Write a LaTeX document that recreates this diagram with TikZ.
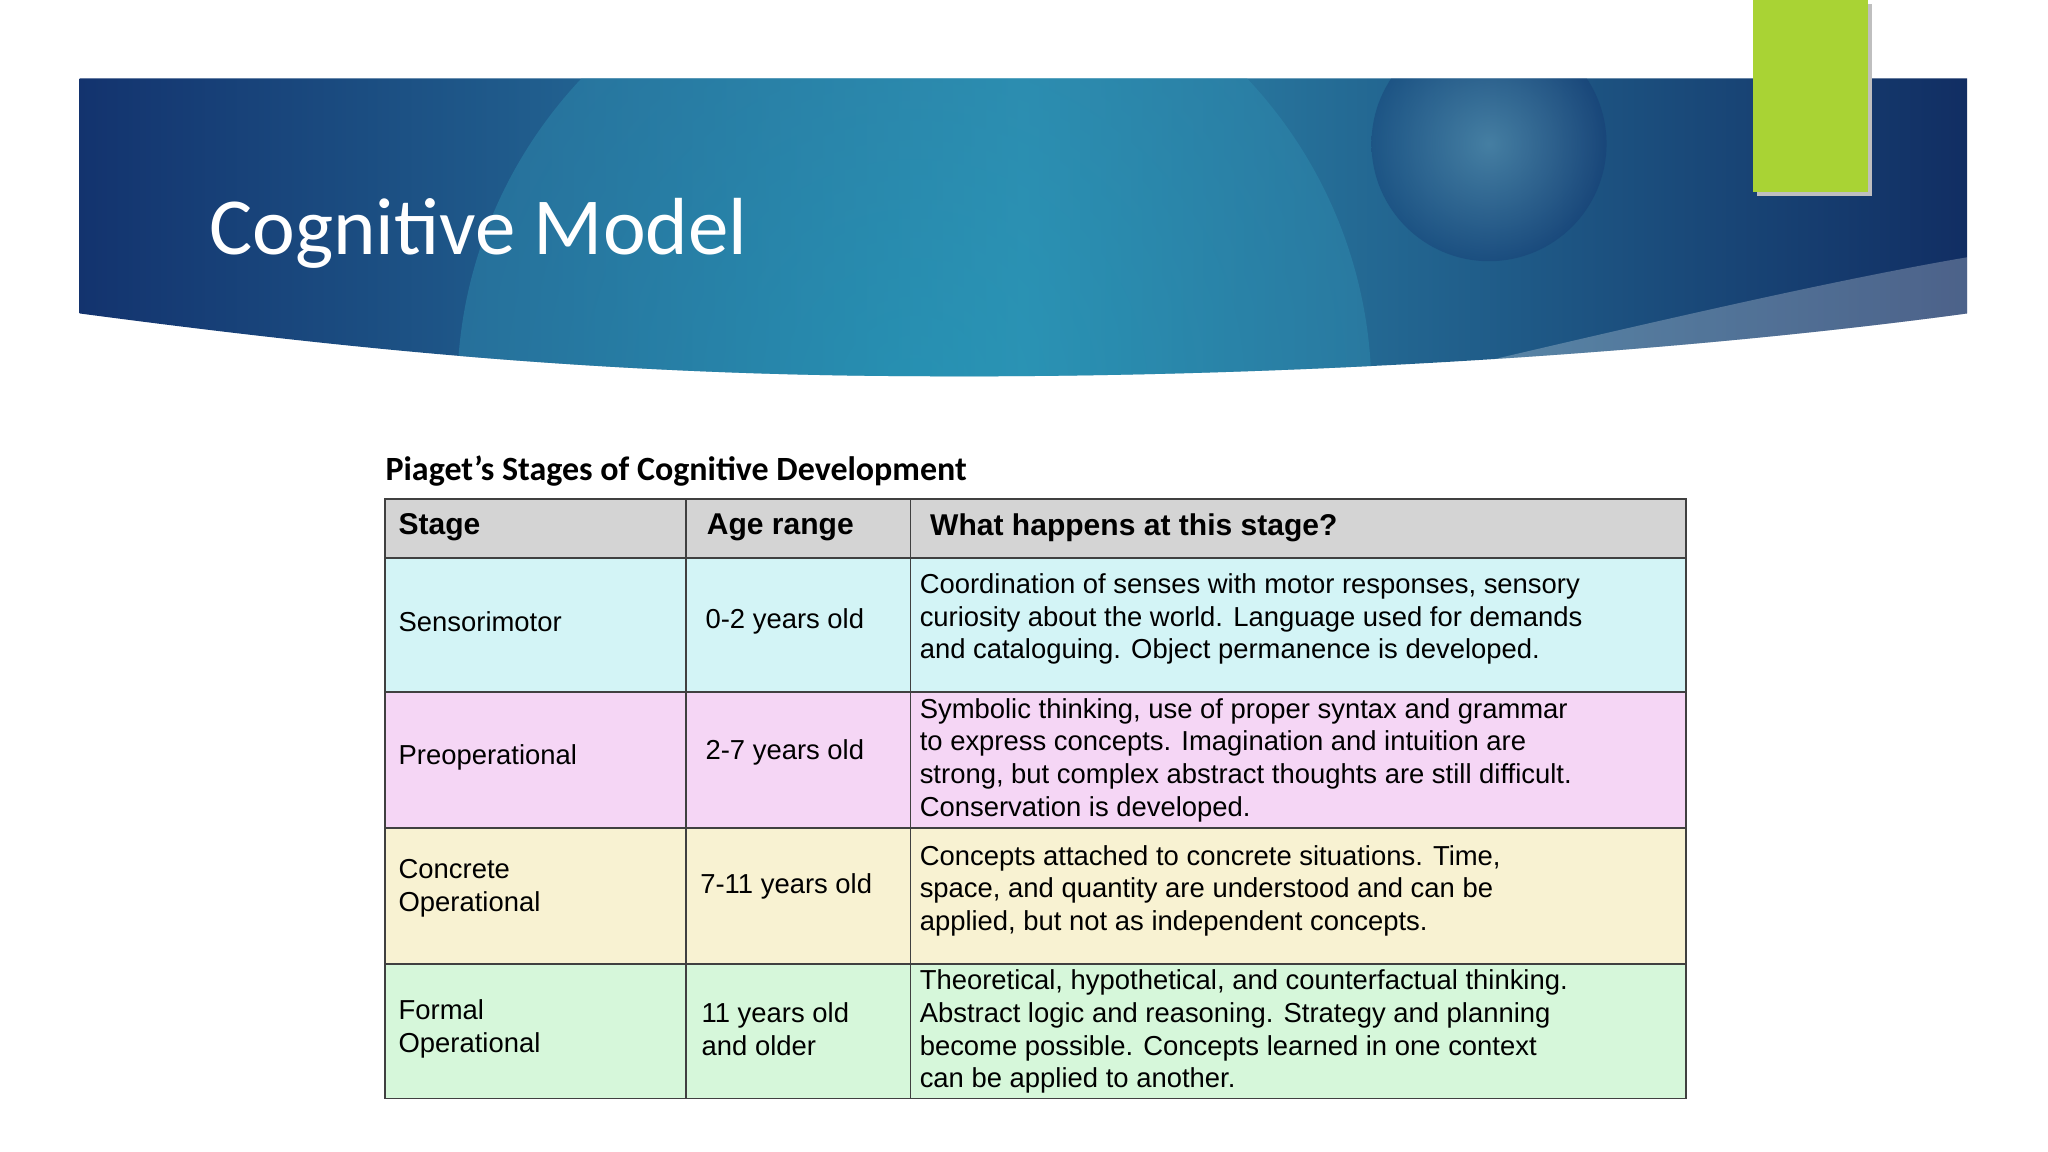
\documentclass[tikz,border=0pt]{standalone}
\usepackage{fontspec}
\setmainfont{Liberation Sans}
\newfontfamily\calfnt{Carlito}
\usetikzlibrary{shadings}
\definecolor{hdr}{HTML}{D4D4D4}
\definecolor{rA}{HTML}{D3F4F6}
\definecolor{rB}{HTML}{F5D6F5}
\definecolor{rC}{HTML}{F8F2D2}
\definecolor{rD}{HTML}{D6F7DA}
\definecolor{dblue}{HTML}{13336E}
\definecolor{tealc}{HTML}{2E8AAE}
\definecolor{grn}{HTML}{A9D334}
\begin{document}
\begin{tikzpicture}[x=1pt,y=-1pt,
  cell/.style={anchor=west,align=left,font=\fontsize{21}{25}\selectfont,inner sep=0pt},
  hcell/.style={anchor=west,font=\fontsize{23}{27}\selectfont\bfseries,inner sep=0pt}]
\useasboundingbox (0,0) rectangle (1568,882);
\fill[white] (0,0) rectangle (1568,882);
% header band
\begin{scope}
\clip (61,60) -- (1506,60) -- (1506,240) .. controls (1300,268) and (1000,290) .. (700,288) .. controls (450,287) and (250,265) .. (61,240) -- cycle;
\shade[left color=dblue,right color=dblue!90!black,middle color=tealc] (61,60) rectangle (1506,290);
\shade[inner color=tealc!80!cyan,outer color=tealc,opacity=0.5] (700,300) circle (350);
\shade[inner color=white!45!tealc,outer color=dblue, opacity=0.35] (1140,110) circle (90);
\fill[white,opacity=0.25] (1080,290) .. controls (1250,250) and (1400,215) .. (1506,197) -- (1506,300) -- cycle;
\end{scope}
\fill[black!25] (1345,3) rectangle (1433,150);
\fill[grn] (1342,0) rectangle (1430,147);
\node[anchor=base west,text=white,inner sep=0pt,font=\calfnt\fontsize{62}{70}\selectfont] (title) at (160,195) {Cognitive Model};
% table
\node[anchor=base west,inner sep=0pt,font=\calfnt\bfseries\fontsize{26}{30}\selectfont] (tt) at (295,368) {Piaget’s Stages of Cognitive Development};
\fill[hdr] (295,382) rectangle (1291,427);
\fill[rA] (295,427) rectangle (1291,530);
\fill[rB] (295,530) rectangle (1291,634);
\fill[rC] (295,634) rectangle (1291,738);
\fill[rD] (295,738) rectangle (1291,841);
\draw[black!75,line width=1.3] (295,382) rectangle (1291,841);
\foreach \y in {427,530,634,738} \draw[black!75,line width=1.3] (295,\y) -- (1291,\y);
\foreach \x in {525,697} \draw[black!75,line width=1.3] (\x,382) -- (\x,841);
\node[hcell] (h1) at (305,404) {Stage};
\node[hcell] (h2) at (541,404) {Age range};
\node[hcell] (h3) at (712,404) {What happens at this stage?};
\node[cell] (s1) at (305,476) {Sensorimotor};
\node[cell] (a1) at (540,476) {0-2 years old};
\node[cell] (d1) at (704,474) {Coordination of senses with motor responses, sensory\\curiosity about the world. Language used for demands\\and cataloguing. Object permanence is developed.};
\node[cell] (s2) at (305,580) {Preoperational};
\node[cell] (a2) at (540,576) {2-7 years old};
\node[cell] (d2) at (704,582) {Symbolic thinking, use of proper syntax and grammar\\to express concepts. Imagination and intuition are\\strong, but complex abstract thoughts are still difficult.\\Conservation is developed.};
\node[cell] (s3) at (305,680) {Concrete\\Operational};
\node[cell] (a3) at (536,679) {7-11 years old};
\node[cell] (d3) at (704,682) {Concepts attached to concrete situations. Time,\\space, and quantity are understood and can be\\applied, but not as independent concepts.};
\node[cell] (s4) at (305,788) {Formal\\Operational};
\node[cell] (a4) at (537,788) {11 years old\\and older};
\node[cell] (d4) at (704,790) {Theoretical, hypothetical, and counterfactual thinking.\\Abstract logic and reasoning. Strategy and planning\\become possible. Concepts learned in one context\\can be applied to another.};
\end{tikzpicture}
\end{document}
